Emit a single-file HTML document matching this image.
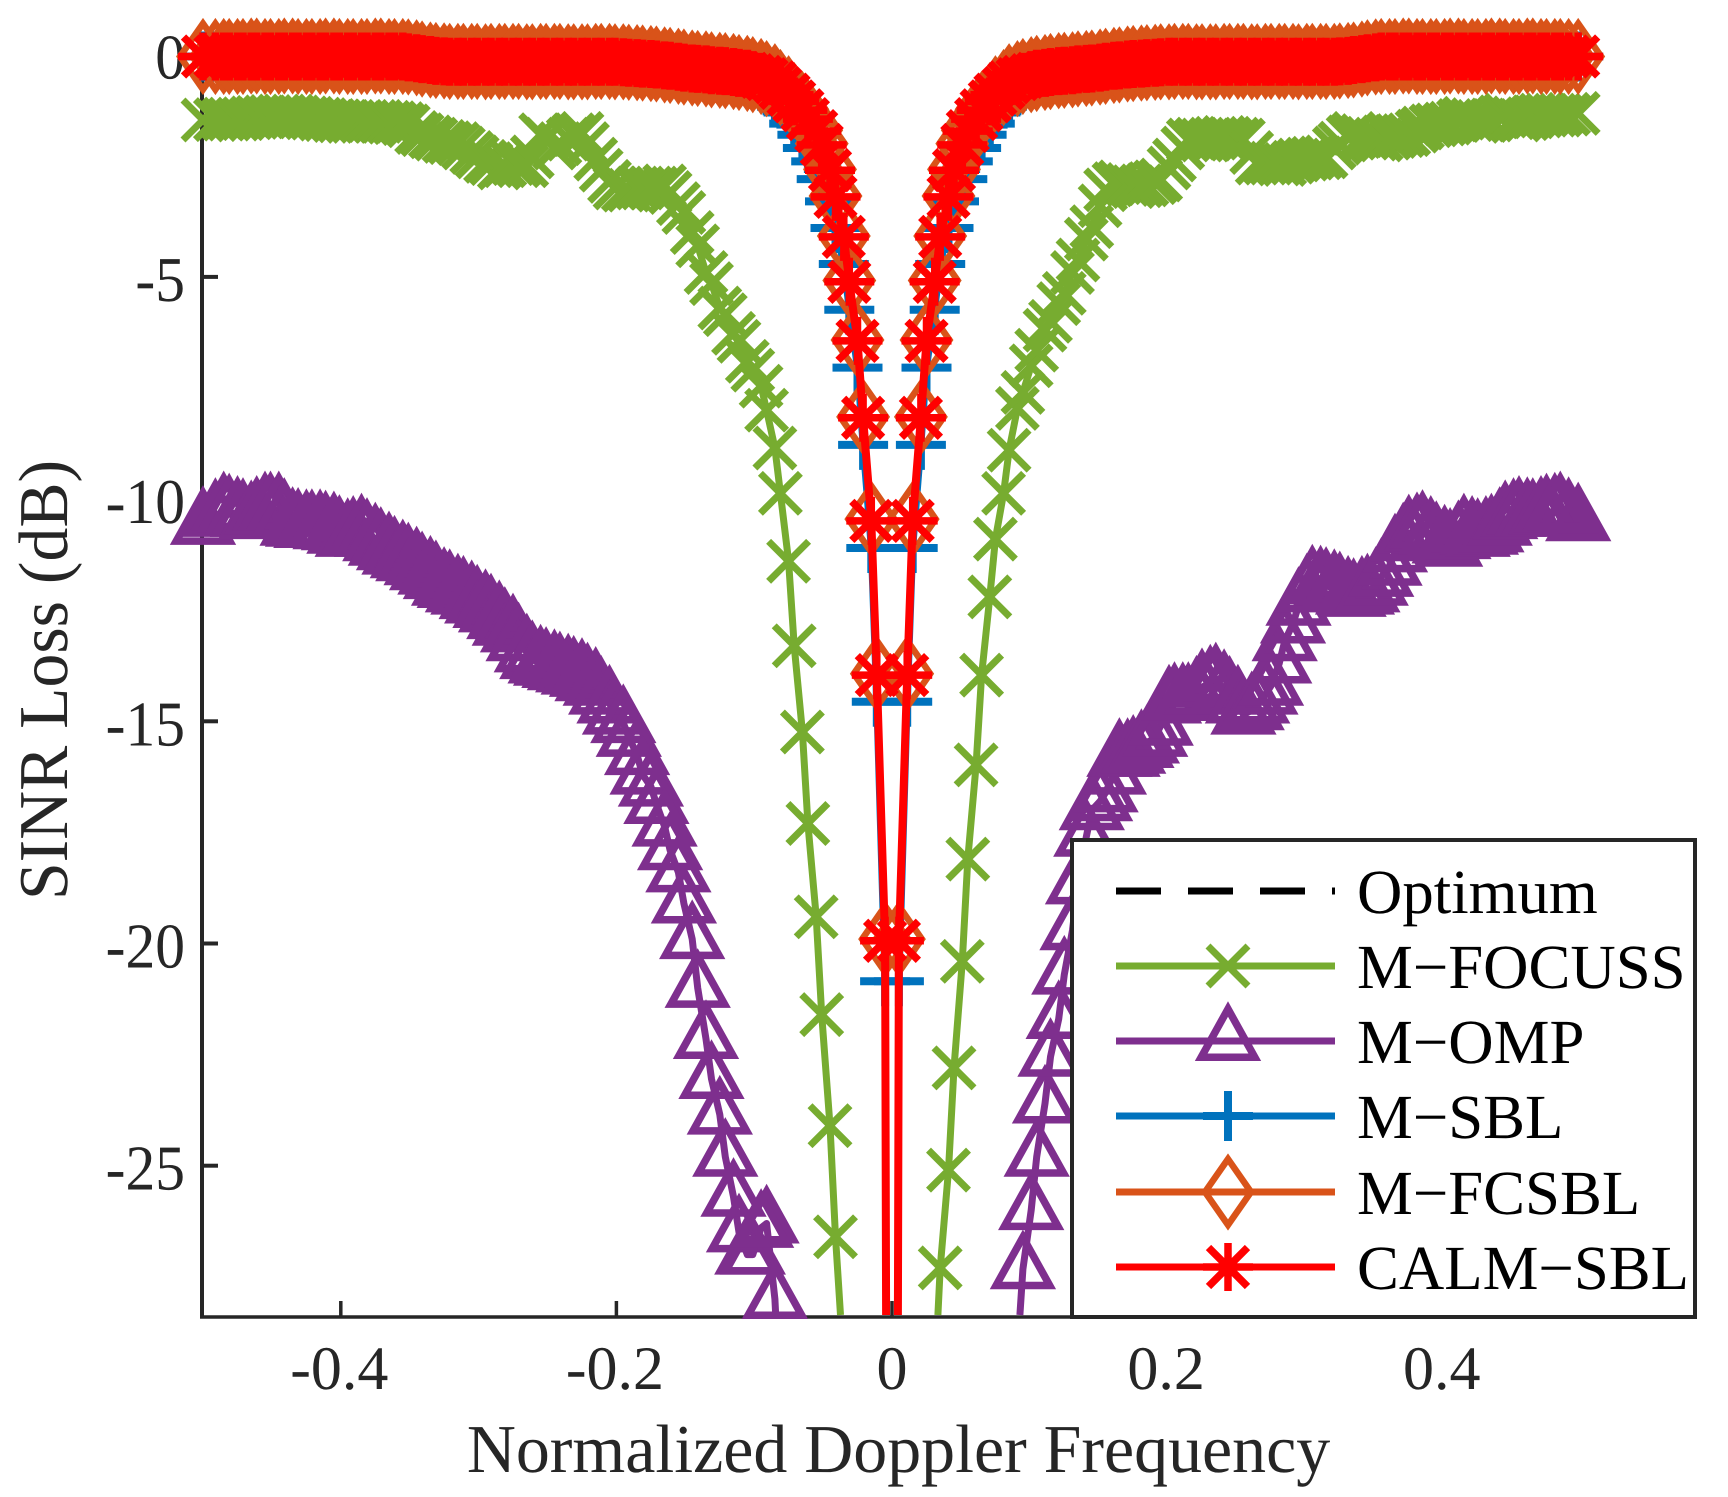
<!DOCTYPE html>
<html lang="en">
<head>
<meta charset="utf-8">
<title>SINR Loss vs Normalized Doppler Frequency</title>
<style>
html,body{margin:0;padding:0;background:#fff;width:1728px;height:1497px;overflow:hidden}
svg{display:block;overflow:hidden}
text{font-family:"Liberation Serif","Times New Roman",serif;text-rendering:geometricPrecision}
</style>
</head>
<body>
<svg id="chart" xmlns="http://www.w3.org/2000/svg" width="1728" height="1497" viewBox="0 0 1728 1497">
  <rect x="0" y="0" width="1728" height="1497" fill="#fff"/>
  <g id="axes-layer"></g>
  <g id="series-layer"></g>
  <text transform="translate(898.5,1472) scale(0.991,1)" font-size="68.5" fill="#262626" text-anchor="middle">Normalized Doppler Frequency</text>
  <text transform="translate(67,680) rotate(-90) scale(0.967,1)" font-size="70" fill="#262626" text-anchor="middle">SINR Loss (dB)</text>
  <g>
    <rect x="1072" y="840" width="623" height="477" fill="#fff" stroke="#262626" stroke-width="4"/>
    <g>
      <line x1="1116" x2="1335" y1="891" y2="891" stroke="#000" stroke-width="7" stroke-dasharray="45 27"/>
      <text x="1357" y="913" font-size="62.8" fill="#000">Optimum</text>
    </g>
    <g>
      <line x1="1116" x2="1335" y1="966" y2="966" stroke="#77AC30" stroke-width="7"/>
      <path transform="translate(1228,966)" d="M-20,-20L20,20M-20,20L20,-20" fill="none" stroke="#77AC30" stroke-width="7"/>
      <text x="1357" y="988" font-size="62.8" fill="#000">M−FOCUSS</text>
    </g>
    <g>
      <line x1="1116" x2="1335" y1="1041" y2="1041" stroke="#7E2F8E" stroke-width="7"/>
      <path transform="translate(1228,1041)" d="M0,-32L26.8,16.25L-26.8,16.25Z" fill="none" stroke="#7E2F8E" stroke-width="7.5" stroke-miterlimit="10"/>
      <text x="1357" y="1063" font-size="62.8" fill="#000">M−OMP</text>
    </g>
    <g>
      <line x1="1116" x2="1335" y1="1116" y2="1116" stroke="#0072BD" stroke-width="7"/>
      <path transform="translate(1228,1116)" d="M-25,0H25M0,-25V25" fill="none" stroke="#0072BD" stroke-width="8"/>
      <text x="1357" y="1138" font-size="62.8" fill="#000">M−SBL</text>
    </g>
    <g>
      <line x1="1116" x2="1335" y1="1192" y2="1192" stroke="#D95319" stroke-width="7"/>
      <path transform="translate(1228,1192)" d="M-23,0L0,-33L23,0L0,33Z" fill="none" stroke="#D95319" stroke-width="6.5" stroke-miterlimit="10"/>
      <text x="1357" y="1214" font-size="62.8" fill="#000">M−FCSBL</text>
    </g>
    <g>
      <line x1="1116" x2="1335" y1="1267" y2="1267" stroke="#FF0000" stroke-width="7"/>
      <path transform="translate(1228,1267)" d="M-25,0H25M0,-24V24M-19.5,-19.5L19.5,19.5M-19.5,19.5L19.5,-19.5" fill="none" stroke="#FF0000" stroke-width="7.5"/>
      <text x="1357" y="1289" font-size="62.8" fill="#000">CALM−SBL</text>
    </g>
  </g>
</svg>
<script>
const xTickValues = [-0.4, -0.2, 0, 0.2, 0.4];
const xTickLabels = ["-0.4", "-0.2", "0", "0.2", "0.4"];
const yTickValues = [0, -5, -10, -15, -20, -25];
const yTickLabels = ["0", "-5", "-10", "-15", "-20", "-25"];
const yMin = -28.36;

const freqLeft = [0,
.005,.011,.015,.021,.025,.031,.035,.041,.045,.051,
.055,.061,.065,.071,.075,.081,.085,.091,.095,.101,
.105,.111,.115,.121,.125,.131,.135,.141,.145,.151,
.155,.161,.165,.171,.175,.181,.185,.191,.195,.201,
.205,.211,.215,.221,.225,.231,.235,.241,.245,.251,
.255,.261,.265,.271,.275,.281,.285,.291,.295,.301,
.305,.311,.315,.321,.325,.331,.335,.341,.345,.351,
.355,.361,.365,.371,.375,.381,.385,.391,.395,.401,
.405,.411,.415,.421,.425,.431,.435,.441,.445,.451,
.455,.461,.465,.471,.475,.481,.485,.491,.5];
const freqRight = [0,
.005,.011,.015,.021,.025,.031,.035,.041,.045,.051,
.055,.061,.065,.071,.075,.081,.085,.091,.095,.101,
.105,.111,.115,.121,.125,.131,.135,.141,.145,.151,
.155,.161,.165,.171,.175,.181,.185,.191,.195,.201,
.205,.211,.215,.221,.225,.231,.235,.241,.245,.251,
.255,.261,.265,.271,.275,.281,.285,.291,.295,.301,
.305,.311,.315,.321,.325,.331,.335,.341,.345,.351,
.355,.361,.365,.371,.375,.381,.385,.391,.395,.401,
.405,.411,.415,.421,.425,.431,.435,.441,.445,.451,
.455,.461,.465,.471,.475,.481,.485,.491,.498];

const focussLeft = [-60,
-42,-40,-38,-36,-34,-32,-29.5,-26.6,-24.1,-21.6,
-19.4,-17.3,-15.24,-13.3,-11.4,-9.87,-8.85,-8.0,-7.46,-7.1,
-6.9,-6.45,-6.27,-5.85,-5.7,-5.15,-4.9,-4.3,-4.0,-3.55,
-3.35,-3.1,-2.95,-3.0,-3.0,-3.0,-3.0,-3.05,-3.05,-3.0,
-2.85,-2.6,-2.35,-2.0,-1.77,-1.8,-1.9,-2.0,-2.1,-1.9,
-1.8,-2.3,-2.5,-2.5,-2.45,-2.5,-2.55,-2.45,-2.4,-2.3,
-2.2,-2.1,-2.0,-1.98,-1.95,-1.9,-1.85,-1.8,-1.75,-1.6,
-1.55,-1.53,-1.52,-1.5,-1.5,-1.5,-1.5,-1.5,-1.5,-1.49,
-1.48,-1.46,-1.45,-1.43,-1.42,-1.4,-1.38,-1.38,-1.38,-1.39,
-1.40,-1.41,-1.42,-1.44,-1.45,-1.45,-1.45,-1.46,-1.47];
const focussRight = [-60,
-42,-40,-38,-35.5,-33.5,-29.8,-27.3,-25.1,-22.8,-20.4,
-18.1,-15.98,-13.96,-12.2,-10.9,-9.87,-8.9,-7.96,-7.6,-7.0,
-6.65,-6.2,-6.0,-5.6,-5.37,-4.9,-4.62,-4.15,-3.87,-3.4,
-3.04,-2.9,-2.86,-2.92,-2.97,-2.95,-2.93,-2.88,-2.82,-2.55,
-2.37,-2.1,-1.92,-1.9,-1.92,-1.9,-1.88,-1.86,-1.88,-1.9,
-1.92,-2.2,-2.44,-2.44,-2.44,-2.46,-2.47,-2.42,-2.37,-2.35,
-2.33,-2.32,-2.3,-2.1,-1.99,-1.85,-1.77,-1.82,-1.88,-1.9,
-1.92,-1.88,-1.84,-1.82,-1.8,-1.72,-1.65,-1.6,-1.58,-1.56,
-1.54,-1.48,-1.43,-1.46,-1.5,-1.48,-1.47,-1.4,-1.36,-1.42,
-1.47,-1.44,-1.4,-1.38,-1.36,-1.36,-1.36,-1.34,-1.32];

const ompLeft = [-60,
-48,-47,-46,-45,-44,-43,-42,-41,-40,-39,
-38,-37,-36,-34,-33,-30.5,-28.0,-26.3,-26.4,-27.0,
-27.0,-26.5,-25.7,-24.8,-23.85,-23.05,-22.15,-21.0,-19.9,-19.1,
-18.4,-17.9,-17.37,-16.86,-16.47,-16.2,-15.76,-15.35,-15.04,-14.85,
-14.6,-14.4,-14.2,-14.1,-14.0,-13.95,-13.9,-13.85,-13.8,-13.75,
-13.7,-13.6,-13.45,-13.2,-13.0,-12.85,-12.7,-12.55,-12.45,-12.35,
-12.25,-12.15,-12.1,-12.0,-11.95,-11.8,-11.7,-11.6,-11.49,-11.4,
-11.33,-11.25,-11.15,-11.05,-10.95,-10.85,-10.75,-10.8,-10.85,-10.78,
-10.7,-10.68,-10.65,-10.65,-10.65,-10.62,-10.6,-10.4,-10.25,-10.25,
-10.25,-10.35,-10.45,-10.4,-10.35,-10.3,-10.25,-10.4,-10.58];
const ompRight = [-60,
-48,-47,-46,-45,-44,-43,-42,-41,-40,-39,
-38,-37,-36,-35,-34,-33,-31,-29.2,-27.33,-26.0,
-24.8,-23.6,-22.55,-21.7,-20.7,-19.7,-18.67,-17.6,-17.0,-16.8,
-16.6,-16.2,-15.8,-15.8,-15.73,-15.6,-15.5,-15.35,-15.1,-14.6,
-14.54,-14.54,-14.54,-14.4,-14.23,-14.15,-14.1,-14.25,-14.4,-14.6,
-14.85,-14.75,-14.6,-14.4,-14.2,-13.7,-13.2,-12.8,-12.4,-12.1,
-11.9,-11.92,-11.95,-12.0,-12.05,-12.15,-12.2,-12.15,-12.1,-11.95,
-11.75,-11.5,-11.2,-10.95,-10.77,-10.72,-10.67,-10.8,-10.92,-11.0,
-11.07,-10.9,-10.75,-10.8,-10.85,-10.8,-10.75,-10.6,-10.45,-10.4,
-10.35,-10.38,-10.4,-10.35,-10.3,-10.28,-10.25,-10.38,-10.5];

const sblDb = [-80,
-20.85,-14.56,-11.10,-8.78,-7.04,-5.74,-4.71,-3.90,-3.30,-2.80,
-2.40,-2.10,-1.80,-1.55,-1.30,-1.10,-0.95,-0.80,-0.70,-0.62,
-0.55,-0.48,-0.42,-0.38,-0.34,-0.31,-0.28,-0.26,-0.24,-0.22,
-0.20,-0.19,-0.18,-0.17,-0.16,-0.16,-0.15,-0.15,-0.15,-0.15,
-0.15,-0.15,-0.15,-0.15,-0.15,-0.15,-0.14,-0.14,-0.14,-0.14,
-0.14,-0.13,-0.13,-0.13,-0.13,-0.13,-0.13,-0.13,-0.13,-0.12,
-0.12,-0.12,-0.12,-0.12,-0.12,-0.11,-0.11,-0.10,-0.08,-0.06,
-0.05,-0.04,-0.04,-0.04,-0.04,-0.04,-0.04,-0.04,-0.04,-0.04,
-0.04,-0.04,-0.04,-0.04,-0.04,-0.04,-0.04,-0.04,-0.04,-0.04,
-0.04,-0.04,-0.04,-0.04,-0.04,-0.04,-0.04,-0.04,-0.04];

const fcsblDb = [-80,
-19.90,-13.93,-10.45,-8.15,-6.42,-5.08,-4.08,-3.18,-2.58,-2.00,
-1.70,-1.43,-1.23,-1.03,-0.88,-0.74,-0.61,-0.54,-0.49,-0.45,
-0.42,-0.40,-0.38,-0.36,-0.35,-0.34,-0.32,-0.31,-0.30,-0.28,
-0.26,-0.24,-0.23,-0.21,-0.20,-0.19,-0.18,-0.17,-0.16,-0.16,
-0.15,-0.15,-0.15,-0.16,-0.16,-0.16,-0.16,-0.15,-0.15,-0.15,
-0.15,-0.16,-0.16,-0.15,-0.15,-0.15,-0.15,-0.15,-0.16,-0.15,
-0.15,-0.15,-0.15,-0.15,-0.14,-0.13,-0.12,-0.10,-0.07,-0.05,
-0.04,-0.04,-0.04,-0.03,-0.03,-0.04,-0.04,-0.04,-0.04,-0.04,
-0.03,-0.03,-0.04,-0.04,-0.04,-0.04,-0.03,-0.03,-0.04,-0.04,
-0.04,-0.03,-0.03,-0.04,-0.04,-0.04,-0.04,-0.04,-0.04];

const calmDb = [-80,
-19.94,-13.96,-10.49,-8.17,-6.44,-5.11,-4.10,-3.20,-2.60,-2.03,
-1.72,-1.45,-1.25,-1.05,-0.90,-0.75,-0.62,-0.55,-0.50,-0.46,
-0.43,-0.41,-0.39,-0.37,-0.36,-0.35,-0.33,-0.32,-0.31,-0.29,
-0.27,-0.25,-0.24,-0.22,-0.21,-0.20,-0.19,-0.18,-0.17,-0.16,
-0.16,-0.16,-0.16,-0.16,-0.16,-0.16,-0.16,-0.16,-0.16,-0.16,
-0.16,-0.16,-0.16,-0.16,-0.16,-0.16,-0.16,-0.16,-0.16,-0.16,
-0.16,-0.16,-0.16,-0.16,-0.15,-0.14,-0.12,-0.10,-0.08,-0.06,
-0.04,-0.04,-0.04,-0.04,-0.04,-0.04,-0.04,-0.04,-0.04,-0.04,
-0.04,-0.04,-0.04,-0.04,-0.04,-0.04,-0.04,-0.04,-0.04,-0.04,
-0.04,-0.04,-0.04,-0.04,-0.04,-0.04,-0.04,-0.04,-0.04];

const optimumDb = [-80,
-19.94,-13.96,-10.49,-8.17,-6.44,-5.11,-4.10,-3.20,-2.60,-2.03,
-1.72,-1.45,-1.25,-1.05,-0.90,-0.75,-0.62,-0.55,-0.50,-0.46,
-0.43,-0.41,-0.39,-0.37,-0.36,-0.35,-0.33,-0.32,-0.31,-0.29,
-0.27,-0.25,-0.24,-0.22,-0.21,-0.20,-0.19,-0.18,-0.17,-0.16,
-0.15,-0.15,-0.15,-0.15,-0.15,-0.14,-0.14,-0.14,-0.14,-0.13,
-0.13,-0.13,-0.12,-0.12,-0.12,-0.11,-0.11,-0.11,-0.10,-0.10,
-0.09,-0.09,-0.08,-0.08,-0.07,-0.07,-0.06,-0.06,-0.05,-0.05,
-0.04,-0.04,-0.04,-0.04,-0.03,-0.03,-0.03,-0.03,-0.03,-0.03,
-0.03,-0.03,-0.03,-0.03,-0.02,-0.02,-0.02,-0.02,-0.02,-0.02,
-0.02,-0.02,-0.02,-0.02,-0.02,-0.02,-0.02,-0.02,-0.02];

const NS = "http://www.w3.org/2000/svg";
const axesLayer = document.getElementById("axes-layer");
const seriesLayer = document.getElementById("series-layer");

function xScale(f) { return 892 + 1378 * f; }
function yScale(db) { return 54.7 - 44.44 * db; }

function makeEl(tag, attrs, parent) {
  const el = document.createElementNS(NS, tag);
  for (const k in attrs) el.setAttribute(k, attrs[k]);
  parent.appendChild(el);
  return el;
}

/* axes */
const yAxisLine = makeEl("line", {x1: 202, x2: 202, y1: yScale(0), y2: 1318.5, stroke: "#262626", "stroke-width": 4}, axesLayer);


const xAxisLine = makeEl("line", {x1: 200, x2: 1695, y1: 1317, y2: 1317, stroke: "#262626", "stroke-width": 3.5}, axesLayer);



xTickValues.forEach(function (v, i) {
  const x = xScale(v);
  const tick = makeEl("line", {x1: x, x2: x, y1: 1317, y2: 1301, stroke: "#262626", "stroke-width": 3.5}, axesLayer);
  
  
  const label = makeEl("text", {x: v === 0 ? x : x - 1.5, y: 1389, "font-size": 62, fill: "#262626", "text-anchor": "middle"}, axesLayer);
  
  
  label.textContent = xTickLabels[i];
});

yTickValues.forEach(function (v, i) {
  const y = yScale(v);
  const tick = makeEl("line", {x1: 202, x2: 218, y1: y, y2: y, stroke: "#262626", "stroke-width": 4}, axesLayer);
  
  
  const label = makeEl("text", {transform: "translate(185," + (y + 24) + ") scale(0.93,1)", "font-size": 64, fill: "#262626", "text-anchor": "end"}, axesLayer);
  
  
  label.textContent = yTickLabels[i];
});

/* series */
function joinSides(left, right) {
  return left.slice().reverse().concat(right);
}
const freqAll = freqLeft.slice().reverse().map(function (f) { return -f; }).concat(freqRight);

/* Line path trimmed at the lower y-limit, like axes clipping */
function linePath(dbValues) {
  let d = "";
  let penDown = false;
  for (let i = 0; i < dbValues.length; i++) {
    const db = dbValues[i];
    const f = freqAll[i];
    if (db >= yMin) {
      if (!penDown && i > 0) {
        const t = (yMin - dbValues[i - 1]) / (db - dbValues[i - 1]);
        const fc = freqAll[i - 1] + t * (f - freqAll[i - 1]);
        d += "M" + xScale(fc).toFixed(1) + "," + yScale(yMin).toFixed(1);
        penDown = true;
      }
      d += (penDown ? "L" : "M") + xScale(f).toFixed(1) + "," + yScale(db).toFixed(1);
      penDown = true;
    } else if (penDown) {
      const t = (yMin - dbValues[i - 1]) / (db - dbValues[i - 1]);
      const fc = freqAll[i - 1] + t * (f - freqAll[i - 1]);
      d += "L" + xScale(fc).toFixed(1) + "," + yScale(yMin).toFixed(1);
      penDown = false;
    }
  }
  return d;
}

function drawLine(name, color, width, dbValues, dash) {
  const attrs = {d: linePath(dbValues), fill: "none", stroke: color, "stroke-width": width, "stroke-linejoin": "round"};
  if (dash) attrs["stroke-dasharray"] = dash;
  const line = makeEl("path", attrs, seriesLayer);
  
  
}

function drawMarkers(name, color, strokeWidth, shape, dbValues) {
  dbValues.forEach(function (d, i) {
    if (d < yMin) return;
    const m = makeEl("path", {
      d: shape,
      transform: "translate(" + xScale(freqAll[i]).toFixed(1) + "," + yScale(d).toFixed(1) + ")",
      fill: "none", stroke: color, "stroke-width": strokeWidth, "stroke-miterlimit": 10
    }, seriesLayer);
    
    
  });
}

const shapeCross = "M-20,-20L20,20M-20,20L20,-20";
const shapeTriangle = "M0,-32L26.8,16.25L-26.8,16.25Z";
const shapePlus = "M-25,0H25M0,-25V25";
const shapeDiamond = "M-23,0L0,-33L23,0L0,33Z";
const shapeStar = "M-25,0H25M0,-24V24M-19.5,-19.5L19.5,19.5M-19.5,19.5L19.5,-19.5";

drawLine("optimum", "#000000", 7, joinSides(optimumDb, optimumDb), "45 27");

const focussAll = joinSides(focussLeft, focussRight);
drawLine("m-focuss", "#77AC30", 7, focussAll);
drawMarkers("m-focuss", "#77AC30", 7, shapeCross, focussAll);

const ompAll = joinSides(ompLeft, ompRight);
drawLine("m-omp", "#7E2F8E", 7, ompAll);
drawMarkers("m-omp", "#7E2F8E", 7.5, shapeTriangle, ompAll);

const sblAll = joinSides(sblDb, sblDb);
drawLine("m-sbl", "#0072BD", 7, sblAll);
drawMarkers("m-sbl", "#0072BD", 8, shapePlus, sblAll);

const fcsblAll = joinSides(fcsblDb, fcsblDb);
drawLine("m-fcsbl", "#D95319", 7, fcsblAll);
drawMarkers("m-fcsbl", "#D95319", 6.5, shapeDiamond, fcsblAll);

const calmAll = joinSides(calmDb, calmDb);
drawLine("calm-sbl", "#FF0000", 8, calmAll);
drawMarkers("calm-sbl", "#FF0000", 7.5, shapeStar, calmAll);
</script>
</body>
</html>
